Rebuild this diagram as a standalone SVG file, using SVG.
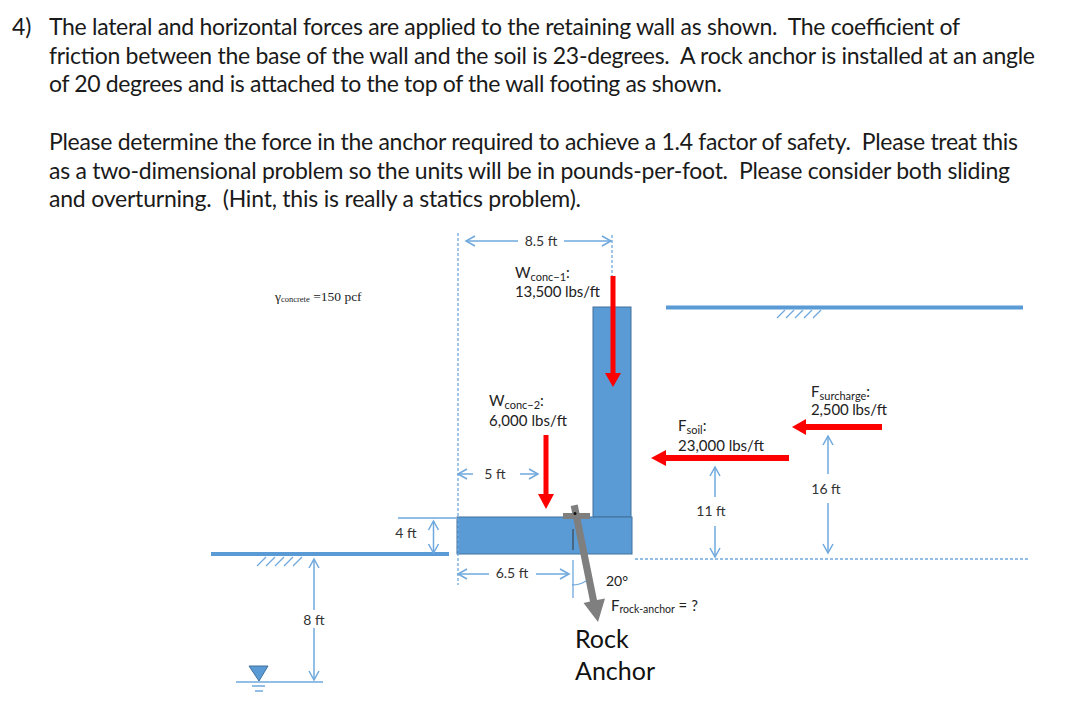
<svg xmlns="http://www.w3.org/2000/svg" width="1065" height="720" viewBox="0 0 1065 720">
<style>
text{font-family:Lato,"Liberation Sans",sans-serif;fill:#222}
.p{font-size:23px;fill:#1a1a1a;white-space:pre}
.l{font-size:15px}
.d{font-size:14px;fill:#333;text-anchor:middle}
.s{font-size:11px}
.dim{fill:none;stroke:#6fa8dc;stroke-width:1.5;marker-start:url(#o);marker-end:url(#o)}
.one{fill:none;stroke:#6fa8dc;stroke-width:1.5;marker-end:url(#o)}
.thin{fill:none;stroke:#6fa8dc;stroke-width:1.3}
.dash{fill:none;stroke:#6fa8dc;stroke-width:1.3;stroke-dasharray:3 2}
.gr{fill:none;stroke:#5b9bd5;stroke-width:4}
.c{fill:#5b9bd5;stroke:#41719c;stroke-width:1}
.f{fill:#f00}
</style>
<defs>
<marker id="o" markerUnits="userSpaceOnUse" markerWidth="12" markerHeight="14" refX="10" refY="6" orient="auto-start-reverse" viewBox="0 0 12 12"><path d="M1 1L10 6L1 11" fill="none" stroke="#6fa8dc" stroke-width="1.5"/></marker>
</defs>
<rect width="1065" height="720" fill="#fff"/>
<g id="problem-text">
<text class="p" x="12" y="35">4)</text>
<text class="p" x="49" y="35" textLength="911">The lateral and horizontal forces are applied to the retaining wall as shown.  The coefficient of</text>
<text class="p" x="49" y="64" textLength="986">friction between the base of the wall and the soil is 23-degrees.  A rock anchor is installed at an angle</text>
<text class="p" x="49" y="92" textLength="673">of 20 degrees and is attached to the top of the wall footing as shown.</text>
<text class="p" x="49" y="150" textLength="969">Please determine the force in the anchor required to achieve a 1.4 factor of safety.  Please treat this</text>
<text class="p" x="49" y="179" textLength="961">as a two-dimensional problem so the units will be in pounds-per-foot.  Please consider both sliding</text>
<text class="p" x="49" y="207" textLength="532">and overturning.  (Hint, this is really a statics problem).</text>
</g>
<g id="wall">
<rect class="c" x="593" y="307" width="38" height="210"/>
<rect class="c" x="457" y="517" width="175" height="37"/>
<path d="M573 529V550" stroke="#333" stroke-width="1" fill="none"/>
</g>
<g id="ground">
<path class="gr" d="M666 307.500H1023M211 554H449"/>
<path class="thin" d="M777 318L785 310M786 318L794 310M795 318L803 310M804 318L812 310M813 318L821 310M257 566L266 557M266 566L275 557M275 566L284 557M284 566L293 557M293 566L302 557"/>
<path d="M398 518H456M236 682H323M252 686H265M255 691H263" class="thin"/>
<path d="M249 666H268L259 681Z" fill="#5b9bd5" stroke="#41719c"/>
</g>
<g id="connectors">
<path class="dash" d="M458 233V585M612 235V276M635 559H1028"/>
<path class="one" d="M518 241H466"/>
<path class="one" d="M564 241H611"/>
<path class="one" d="M473 474H458"/>
<path class="one" d="M520 474H538"/>
<path class="one" d="M489 574H458"/>
<path class="one" d="M536 574H569"/>
<path class="dim" d="M433.500 521V553"/>
<path class="one" d="M314 610V559"/>
<path class="one" d="M314 628V680"/>
<path class="one" d="M715 497V467"/>
<path class="one" d="M715 526V557"/>
<path class="one" d="M828 474V436"/>
<path class="one" d="M828 503V553"/>
<path class="thin" d="M573 560V598M572 585Q580 585 586 581"/>
</g>
<g id="force-w1"><path class="f" d="M610.500 276H615.500V373H621L613 387L605 373H610.500Z"/></g>
<g id="force-w2"><path class="f" d="M543.500 435H548.500V494H554L546 509L538 494H543.500Z"/></g>
<g id="force-soil"><path class="f" d="M789 455V461H666V466L651 458L666 450V455Z"/></g>
<g id="force-surcharge"><path class="f" d="M882 424V430H806V435L792 427L806 419V424Z"/></g>
<g id="anchor">
<path d="M570.700 506L577.700 504.500L597 600L605 598.500L598 622L583.500 603L590 601.500Z" fill="#7f7f7f"/>
<rect x="563" y="513" width="27" height="6" fill="#7f7f7f"/>
<circle cx="575" cy="513.500" r="1.500" fill="#111"/>
</g>
<g id="labels">
<text class="d" x="541" y="246">8.5 ft</text>
<text class="l" x="515" y="278">W<tspan class="s" dy="3">conc−1</tspan><tspan dy="-3">:</tspan></text>
<text class="l" x="515" y="297" textLength="85">13,500 lbs/ft</text>
<text class="l" x="489" y="406">W<tspan class="s" dy="3">conc−2</tspan><tspan dy="-3">:</tspan></text>
<text class="l" x="489" y="426" textLength="78">6,000 lbs/ft</text>
<text class="l" x="678" y="431">F<tspan class="s" dy="3">soil</tspan><tspan dy="-3">:</tspan></text>
<text class="l" x="678" y="451" textLength="86">23,000 lbs/ft</text>
<text class="l" x="811" y="397">F<tspan class="s" dy="3">surcharge</tspan><tspan dy="-3">:</tspan></text>
<text class="l" x="811" y="415" textLength="76">2,500 lbs/ft</text>
<text class="d" x="495" y="479">5 ft</text>
<text class="d" x="512" y="578">6.5 ft</text>
<text class="d" x="406" y="538">4 ft</text>
<text class="d" x="314" y="625">8 ft</text>
<text class="d" x="711" y="516">11 ft</text>
<text class="d" x="826" y="494">16 ft</text>
<text class="l" x="606" y="586" style="font-size:14px">20°</text>
<text class="l" x="611" y="611" style="font-size:15px">F<tspan style="font-size:10.500px" dy="2">rock-anchor</tspan><tspan dy="-2"> = ?</tspan></text>
<text x="575" y="648" style="font-size:25px;fill:#111">Rock</text>
<text x="575" y="680" style="font-size:25px;fill:#111">Anchor</text>
<text x="275" y="301" style="font-family:'Liberation Serif',serif;font-size:13.500px;fill:#222">γ<tspan style="font-size:8.500px" dy="1">concrete</tspan><tspan dy="-1"> =150 pcf</tspan></text>
</g>
</svg>
